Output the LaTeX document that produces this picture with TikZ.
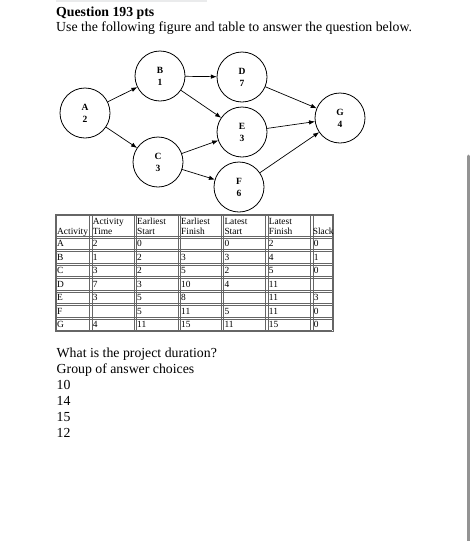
\documentclass[tikz,border=0pt]{standalone}
\usepackage{fontspec}
\setmainfont{Liberation Serif}
\usetikzlibrary{arrows.meta}
\begin{document}
\begin{tikzpicture}[x=1pt,y=-1pt,
  act/.style={circle,minimum size=50pt,inner sep=0pt,align=center,font=\fontsize{9.5}{12}\selectfont\bfseries},
  ring/.style={fill=black,even odd rule},
  link/.style={-{Latex[length=6pt,width=4.5pt]},line width=0.7pt},
  body/.style={font=\fontsize{13.8}{16}\selectfont,anchor=base west,inner sep=0pt},
  gridline/.style={draw=black!60,line width=0.6pt},
  celltext/.style={font=\fontsize{9.4}{11}\selectfont,anchor=base west,inner sep=0pt}]
\fill[white] (0,0) rectangle (474,541);
\useasboundingbox (0,0) rectangle (474,541);
% top faint bar and scrollbar
\fill[cyan!6!gray!18] (56,0) rectangle (207,2);
\draw[line width=3pt,gray!85,line cap=round] (468.5,156) -- (468.5,541);
% heading
\node[body,font=\fontsize{13.8}{16}\selectfont\bfseries] (title) at (56,16) {Question 193 pts};
\node[body] (intro) at (56,31.5) {Use the following figure and table to answer the question below.};
% network nodes
\node[act] (A) at (85,113) {A\\2};
\node[act] (B) at (160,76) {B\\1};
\node[act] (C) at (158,162) {C\\3};
\node[act] (D) at (242,77) {D\\7};
\node[act] (E) at (242,132) {E\\3};
\node[act] (F) at (239,187) {F\\6};
\node[act] (G) at (340,118) {G\\4};
% activity circles as filled rings
\fill[ring] (A.center) circle (25.4pt) (A.center) circle (24.6pt);
\fill[ring] (B.center) circle (25.4pt) (B.center) circle (24.6pt);
\fill[ring] (C.center) circle (25.4pt) (C.center) circle (24.6pt);
\fill[ring] (D.center) circle (25.4pt) (D.center) circle (24.6pt);
\fill[ring] (E.center) circle (25.4pt) (E.center) circle (24.6pt);
\fill[ring] (F.center) circle (25.4pt) (F.center) circle (24.6pt);
\fill[ring] (G.center) circle (25.4pt) (G.center) circle (24.6pt);
\draw[link] (A) -- (B);
\draw[link] (A) -- (C);
\draw[link] (B) -- (D);
\draw[link] (B) -- (E);
\draw[link] (C) -- (E);
\draw[link] (C) -- (F);
\draw[link] (D) -- (G);
\draw[link] (E) -- (G);
\draw[link] (F) -- (G);
% table grid as double lines
\draw[gridline] (55,214) rectangle (333.3,331.5);
\draw[gridline]
  (56.2,215.2) -- (332.1,215.2)
  (56.2,330.3) -- (332.1,330.3)
  (56.2,215.2) -- (56.2,330.3)
  (332.1,215.2) -- (332.1,330.3);
\foreach \gy in {237,250.5,264,277.5,291,304.5,318}
  \draw[gridline] (56.2,\gy-1.2) -- (332.1,\gy-1.2) (56.2,\gy+1.2) -- (332.1,\gy+1.2);
\foreach \gx in {90.7,135,179,222.3,266.7,311.7}
  \draw[gridline] (\gx-1.2,215.2) -- (\gx-1.2,330.3) (\gx+1.2,215.2) -- (\gx+1.2,330.3);
% header
\node[celltext] (h1) at (57,234) {Activity};
\node[celltext] (h2a) at (92.7,224) {Activity};
\node[celltext] (h2b) at (92.7,234) {Time};
\node[celltext] (h3a) at (137,224) {Earliest};
\node[celltext] (h3b) at (137,234) {Start};
\node[celltext] (h4a) at (181,224) {Earliest};
\node[celltext] (h4b) at (181,234) {Finish};
\node[celltext] (h5a) at (224.3,224) {Latest};
\node[celltext] (h5b) at (224.3,234) {Start};
\node[celltext] (h6a) at (268.7,224) {Latest};
\node[celltext] (h6b) at (268.7,234) {Finish};
\node[celltext] (h7) at (312.6,234) {Slack};
% row A
\node[celltext] (tA1) at (57,246.5) {A};
\node[celltext] (tA2) at (92.7,246.5) {2};
\node[celltext] (tA3) at (137,246.5) {0};
\node[celltext] (tA5) at (224.3,246.5) {0};
\node[celltext] (tA6) at (268.7,246.5) {2};
\node[celltext] (tA7) at (313.7,246.5) {0};
% row B
\node[celltext] (tB1) at (57,260) {B};
\node[celltext] (tB2) at (92.7,260) {1};
\node[celltext] (tB3) at (137,260) {2};
\node[celltext] (tB4) at (181,260) {3};
\node[celltext] (tB5) at (224.3,260) {3};
\node[celltext] (tB6) at (268.7,260) {4};
\node[celltext] (tB7) at (313.7,260) {1};
% row C
\node[celltext] (tC1) at (57,273.5) {C};
\node[celltext] (tC2) at (92.7,273.5) {3};
\node[celltext] (tC3) at (137,273.5) {2};
\node[celltext] (tC4) at (181,273.5) {5};
\node[celltext] (tC5) at (224.3,273.5) {2};
\node[celltext] (tC6) at (268.7,273.5) {5};
\node[celltext] (tC7) at (313.7,273.5) {0};
% row D
\node[celltext] (tD1) at (57,287) {D};
\node[celltext] (tD2) at (92.7,287) {7};
\node[celltext] (tD3) at (137,287) {3};
\node[celltext] (tD4) at (181,287) {10};
\node[celltext] (tD5) at (224.3,287) {4};
\node[celltext] (tD6) at (268.7,287) {11};
% row E
\node[celltext] (tE1) at (57,300.5) {E};
\node[celltext] (tE2) at (92.7,300.5) {3};
\node[celltext] (tE3) at (137,300.5) {5};
\node[celltext] (tE4) at (181,300.5) {8};
\node[celltext] (tE6) at (268.7,300.5) {11};
\node[celltext] (tE7) at (313.7,300.5) {3};
% row F
\node[celltext] (tF1) at (57,314) {F};
\node[celltext] (tF3) at (137,314) {5};
\node[celltext] (tF4) at (181,314) {11};
\node[celltext] (tF5) at (224.3,314) {5};
\node[celltext] (tF6) at (268.7,314) {11};
\node[celltext] (tF7) at (313.7,314) {0};
% row G
\node[celltext] (tG1) at (57,327.5) {G};
\node[celltext] (tG2) at (92.7,327.5) {4};
\node[celltext] (tG3) at (137,327.5) {11};
\node[celltext] (tG4) at (181,327.5) {15};
\node[celltext] (tG5) at (224.3,327.5) {11};
\node[celltext] (tG6) at (268.7,327.5) {15};
\node[celltext] (tG7) at (313.7,327.5) {0};
% question
\node[body] (q) at (56.5,357.5) {What is the project duration?};
\node[body] (g) at (56.5,373.5) {Group of answer choices};
\node[body] (o1) at (56.5,389.5) {10};
\node[body] (o2) at (56.5,405.5) {14};
\node[body] (o3) at (56.5,421.5) {15};
\node[body] (o4) at (56.5,437.5) {12};
\end{tikzpicture}
\end{document}
